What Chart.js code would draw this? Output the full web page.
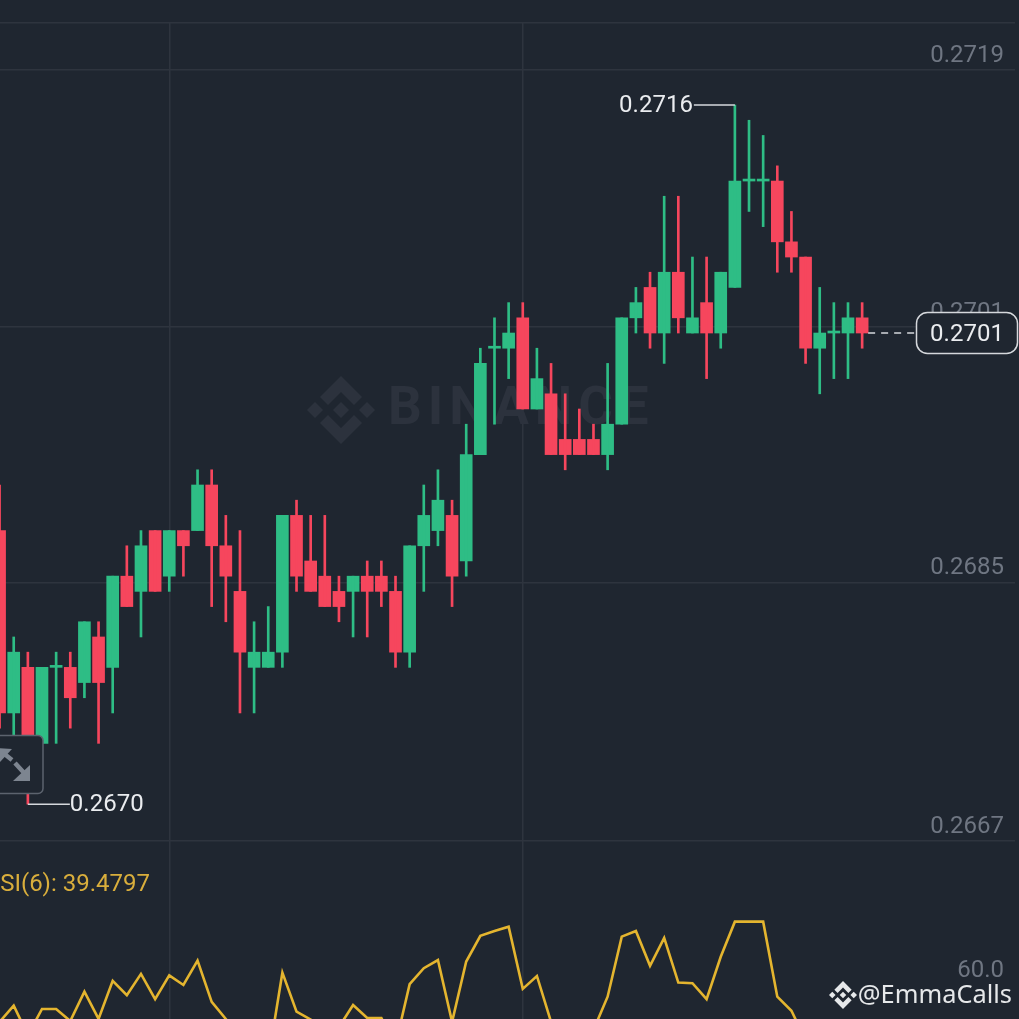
<!DOCTYPE html>
<html>
<head>
<meta charset="utf-8">
<title>Binance chart</title>
<script src="https://cdn.jsdelivr.net/npm/chart.js@4/dist/chart.umd.js"></script>
<style>
  html, body { margin: 0; padding: 0; background: #1f2630; }
  #wrap { width: 1019px; height: 1019px; }
</style>
</head>
<body>
<div id="wrap"><canvas id="chart" width="1019" height="1019"></canvas></div>
<script>
// candle values (one tick = 0.0001)
const opens = [0.2688,0.2676,0.2679,0.2674,0.2679,0.2679,0.2678,0.2681,0.2679,0.2685,0.2684,0.2688,0.2685,0.2688,0.2688,0.2691,0.2687,0.2684,0.2679,0.2679,0.2680,0.2689,0.2686,0.2685,0.2684,0.2684,0.2685,0.2685,0.2684,0.2680,0.2687,0.2688,0.2689,0.2686,0.2693,0.2700,0.2700,0.2702,0.2696,0.2697,0.2694,0.2694,0.2694,0.2693,0.2695,0.2702,0.2704,0.2701,0.2705,0.2701,0.2703,0.2701,0.2704,0.2711,0.2711,0.2711,0.2707,0.2706,0.2700,0.2701,0.2701,0.2702];
const closes = [0.2676,0.2680,0.2674,0.2679,0.2679,0.2677,0.2682,0.2678,0.2685,0.2683,0.2687,0.2684,0.2688,0.2687,0.2691,0.2687,0.2685,0.2680,0.2680,0.2680,0.2689,0.2685,0.2684,0.2683,0.2683,0.2685,0.2684,0.2684,0.2680,0.2687,0.2689,0.2690,0.2685,0.2693,0.2699,0.2700,0.2701,0.2696,0.2698,0.2693,0.2693,0.2693,0.2693,0.2695,0.2702,0.2703,0.2701,0.2705,0.2702,0.2702,0.2701,0.2705,0.2711,0.2711,0.2711,0.2707,0.2706,0.2700,0.2701,0.2701,0.2702,0.2701];
const highs = [0.2691,0.2681,0.2680,0.2679,0.2680,0.2680,0.2682,0.2682,0.2685,0.2687,0.2688,0.2688,0.2688,0.2688,0.2692,0.2692,0.2689,0.2688,0.2682,0.2683,0.2689,0.2690,0.2689,0.2689,0.2685,0.2685,0.2686,0.2686,0.2685,0.2687,0.2691,0.2692,0.2690,0.2695,0.2700,0.2702,0.2703,0.2703,0.2700,0.2699,0.2697,0.2696,0.2695,0.2699,0.2702,0.2704,0.2705,0.2710,0.2710,0.2706,0.2706,0.2705,0.2716,0.2715,0.2714,0.2712,0.2709,0.2706,0.2704,0.2703,0.2703,0.2703];
const lows = [0.2675,0.2674,0.2670,0.2674,0.2674,0.2675,0.2677,0.2674,0.2676,0.2683,0.2681,0.2684,0.2684,0.2685,0.2688,0.2683,0.2682,0.2676,0.2676,0.2679,0.2679,0.2684,0.2684,0.2683,0.2682,0.2681,0.2681,0.2683,0.2679,0.2679,0.2684,0.2687,0.2683,0.2685,0.2693,0.2695,0.2698,0.2696,0.2696,0.2693,0.2692,0.2693,0.2693,0.2692,0.2695,0.2701,0.2700,0.2699,0.2701,0.2701,0.2698,0.2700,0.2704,0.2709,0.2708,0.2705,0.2705,0.2699,0.2697,0.2698,0.2698,0.2700];
const rsiValues = [47.7,53.1,43.3,52,52,48,57.8,48.7,61.4,56.6,63.7,55.3,63.2,60,68.1,54.4,48.7,41.7,35,35,64.1,51.1,48.5,45,46,53.3,49,49,40,60.3,65.6,68.3,47.7,67.8,76.4,78,79.4,58.7,63,47.7,41.7,40,45,56.1,76.1,78,66.4,75.7,60.8,60.6,55.3,69.4,81.1,81.1,81.1,56.1,51.4,41.7,43.3,45,43,39.4797];
const priceTicks = [0.27183, 0.27014, 0.26846, 0.26676];
const priceTickLabels = ['0.2719', '0.2701', '0.2685', '0.2667'];
const rsiTicks = [60];
const timeGridLines = [12, 37];

const GREEN = '#2ebd85';
const RED = '#f6465d';
const BG = '#1f2630';
const GRID = '#2e343e';
const TICK_TEXT = '#6f7682';

const indexes = opens.map((_, i) => i);
const candleColors = indexes.map(i => closes[i] >= opens[i] ? GREEN : RED);

// the things a trading screen puts around the candles
const overlay = {
  id: 'overlay',
  beforeDatasetsDraw(chart) {
    const ctx = chart.ctx;
    ctx.save();
    // axis labels sit above their grid lines, inside the plot
    ctx.font = '24px Roboto';
    ctx.fillStyle = TICK_TEXT;
    ctx.textAlign = 'right';
    ctx.textBaseline = 'middle';
    priceTicks.forEach((t, i) => {
      ctx.fillText(priceTickLabels[i], 1004, chart.scales.y.getPixelForValue(t) - 14);
    });
    rsiTicks.forEach(t => {
      ctx.fillText(t.toFixed(1), 1004, chart.scales.rsi.getPixelForValue(t) - 14);
    });
    // watermark
    ctx.fillStyle = '#2c323d';
    drawBinanceMark(ctx, 341, 410, 34);
    ctx.font = 'bold 53px Roboto';
    ctx.letterSpacing = '6px';
    ctx.textAlign = 'left';
    ctx.fillText('BINANCE', 388, 411);
    ctx.restore();
  },
  afterDraw(chart) {
    const ctx = chart.ctx;
    const x = chart.scales.x, y = chart.scales.y;
    ctx.save();
    ctx.font = '24px Roboto';
    ctx.textBaseline = 'middle';

    // highest and lowest price marks
    ctx.strokeStyle = '#d5d8dc';
    ctx.fillStyle = '#eaecef';
    ctx.lineWidth = 1.5;
    const hi = highs.indexOf(Math.max(...highs));
    const lo = lows.indexOf(Math.min(...lows));
    const hx = x.getPixelForValue(hi), hy = y.getPixelForValue(highs[hi]);
    const lx = x.getPixelForValue(lo), ly = y.getPixelForValue(lows[lo]);
    ctx.beginPath();
    ctx.moveTo(hx, hy); ctx.lineTo(hx - 41, hy);
    ctx.moveTo(lx, ly); ctx.lineTo(lx + 42, ly);
    ctx.stroke();
    ctx.textAlign = 'right';
    ctx.fillText(highs[hi].toFixed(4), hx - 42, hy + 1);
    ctx.textAlign = 'left';
    ctx.fillText(lows[lo].toFixed(4), lx + 42, ly + 1);

    // last price line and badge
    const last = closes[closes.length - 1];
    const py = y.getPixelForValue(last);
    ctx.setLineDash([7, 6]);
    ctx.beginPath();
    ctx.moveTo(x.getPixelForValue(closes.length - 1) + 6, py);
    ctx.lineTo(916, py);
    ctx.stroke();
    ctx.setLineDash([]);
    ctx.fillStyle = BG;
    ctx.beginPath();
    ctx.roundRect(916.5, 312.5, 101, 41, 11);
    ctx.fill();
    ctx.stroke();
    ctx.fillStyle = '#eaecef';
    ctx.textAlign = 'center';
    ctx.fillText(last.toFixed(4), 967, py + 2);

    // expand button, cut by the left edge
    ctx.fillStyle = BG;
    ctx.strokeStyle = '#5c636e';
    ctx.lineWidth = 1.5;
    ctx.beginPath();
    ctx.roundRect(-12, 735.5, 55, 58, 5);
    ctx.fill();
    ctx.stroke();
    ctx.strokeStyle = '#7d8590';
    ctx.fillStyle = '#7d8590';
    ctx.lineWidth = 4.5;
    ctx.beginPath();
    ctx.moveTo(2, 752); ctx.lineTo(12, 760);
    ctx.moveTo(15, 763); ctx.lineTo(26, 775);
    ctx.stroke();
    ctx.beginPath();
    ctx.moveTo(30, 765); ctx.lineTo(30, 781); ctx.lineTo(13, 781);
    ctx.closePath();
    ctx.fill();
    ctx.beginPath();
    ctx.moveTo(-2, 748); ctx.lineTo(12, 749); ctx.lineTo(0, 762);
    ctx.closePath();
    ctx.fill();

    // rsi legend
    ctx.fillStyle = '#d9ae3c';
    ctx.textAlign = 'right';
    ctx.fillText('RSI(6): ' + rsiValues[rsiValues.length - 1], 150, 885);

    // poster tag
    ctx.fillStyle = '#e6e8ea';
    drawBinanceMark(ctx, 843, 995, 14);
    ctx.font = '25.4px "Noto Sans"';
    ctx.textAlign = 'right';
    ctx.fillText('@EmmaCalls', 1012, 996);
    ctx.restore();
  }
};

// the four-diamond logo: four chevron sides and a centre square
function drawBinanceMark(ctx, cx, cy, r) {
  const s = r / 34;
  const poly = pts => {
    ctx.beginPath();
    pts.forEach((p, i) => i ? ctx.lineTo(cx + p[0] * s, cy + p[1] * s) : ctx.moveTo(cx + p[0] * s, cy + p[1] * s));
    ctx.closePath();
    ctx.fill();
  };
  poly([[0, -34], [21, -13], [13, -5], [0, -18], [-13, -5], [-21, -13]]);
  poly([[0, 34], [21, 13], [13, 5], [0, 18], [-13, 5], [-21, 13]]);
  poly([[0, -8], [8, 0], [0, 8], [-8, 0]]);
  poly([[-34, 0], [-26, -8], [-18, 0], [-26, 8]]);
  poly([[34, 0], [26, -8], [18, 0], [26, 8]]);
}

new Chart(document.getElementById('chart'), {
  type: 'bar',
  data: {
    datasets: [
      {
        type: 'line',
        label: 'RSI(6)',
        yAxisID: 'rsi',
        data: indexes.map(i => ({ x: i, y: rsiValues[i] })),
        borderColor: '#e4b52f',
        borderWidth: 2.6,
        pointRadius: 0,
        tension: 0,
        borderJoinStyle: 'miter'
      },
      {
        label: 'wick',
        yAxisID: 'y',
        data: indexes.map(i => ({ x: i, y: [lows[i], highs[i]] })),
        backgroundColor: candleColors,
        barThickness: 2,
        grouped: false
      },
      {
        label: 'body',
        yAxisID: 'y',
        data: indexes.map(i => ({ x: i, y: [opens[i], closes[i]] })),
        backgroundColor: candleColors,
        barThickness: 12,
        minBarLength: 2,
        grouped: false
      }
    ]
  },
  options: {
    responsive: false,
    animation: false,
    layout: { padding: { top: 23, left: 0, right: 0, bottom: 0 } },
    plugins: { legend: { display: false }, tooltip: { enabled: false } },
    scales: {
      x: {
        type: 'linear',
        offset: false,
        min: 0.03,
        max: 71.81,
        border: { display: false },
        ticks: { display: false },
        grid: { color: GRID, lineWidth: 1.5, drawTicks: false, offset: false },
        afterBuildTicks: scale => { scale.ticks = timeGridLines.map(v => ({ value: v })); }
      },
      y: {
        position: 'right',
        stack: 'panes',
        stackWeight: 817,
        min: 0.266764,
        max: 0.27214,
        border: { display: false },
        grid: { color: GRID, lineWidth: 1.5, drawTicks: false },
        afterBuildTicks: scale => {
          scale.ticks = [scale.max].concat(priceTicks).map(v => ({ value: v }));
        },
        ticks: { display: false }
      },
      rsi: {
        position: 'right',
        stack: 'panes',
        stackWeight: 179,
        min: 48.67,
        max: 108.3,
        border: { display: false },
        grid: { display: false },
        ticks: { display: false }
      }
    }
  },
  plugins: [overlay]
});
</script>
</body>
</html>
